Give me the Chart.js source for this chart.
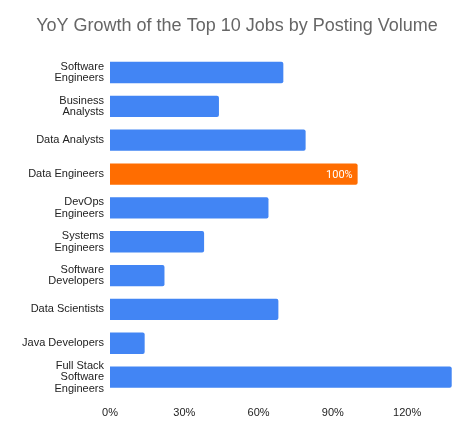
<!DOCTYPE html>
<html>
<head>
<meta charset="utf-8">
<script src="https://cdn.jsdelivr.net/npm/chart.js@4"></script>
<style>
  html, body { margin: 0; padding: 0; background: #fff; }
  #wrap { width: 474px; height: 434px; }
</style>
</head>
<body>
<div id="wrap"><canvas id="chart" width="474" height="434"></canvas></div>
<script>
const jobs = [
  ['Software', 'Engineers'],
  ['Business', 'Analysts'],
  'Data Analysts',
  'Data Engineers',
  ['DevOps', 'Engineers'],
  ['Systems', 'Engineers'],
  ['Software', 'Developers'],
  'Data Scientists',
  'Java Developers',
  ['Full Stack', 'Software', 'Engineers'],
];
const growth = [70, 44, 79, 100, 64, 38, 22, 68, 14, 138];
const highlightIndex = 3;
const xTickStep = 30;
const xMax = 147;

const BLUE = '#4285f4';
const ORANGE = '#ff6d01';
const FONT = '"Liberation Sans", Arial, sans-serif';

// white value label inside the highlighted bar
const valueLabel = {
  id: 'valueLabel',
  afterDatasetsDraw(chart) {
    const bar = chart.getDatasetMeta(0).data[highlightIndex];
    if (!bar) return;
    const ctx = chart.ctx;
    ctx.save();
    ctx.fillStyle = '#fff';
    ctx.font = '11px Roboto, sans-serif';
    ctx.textAlign = 'right';
    ctx.textBaseline = 'middle';
    ctx.fillText(growth[highlightIndex] + '%', bar.x - 5, bar.y + 1);
    ctx.restore();
  }
};

new Chart(document.getElementById('chart'), {
  type: 'bar',
  data: {
    labels: jobs,
    datasets: [{
      data: growth,
      backgroundColor: growth.map((_, i) => i === highlightIndex ? ORANGE : BLUE),
      borderRadius: 2,
      borderSkipped: 'start',
      barPercentage: 0.9,
      categoryPercentage: 0.7,
    }],
  },
  options: {
    indexAxis: 'y',
    responsive: false,
    animation: false,
    layout: { padding: 0 },
    plugins: {
      legend: { display: false },
      tooltip: { enabled: false },
      title: {
        display: true,
        text: 'YoY Growth of the Top 10 Jobs by Posting Volume',
        color: '#666',
        font: { family: FONT, size: 18, weight: 'normal', lineHeight: 1.2 },
        padding: { top: 15, bottom: 19 },
      },
    },
    scales: {
      x: {
        min: 0,
        max: xMax,
        grid: { display: false, tickLength: 0 },
        border: { display: false },
        ticks: {
          stepSize: xTickStep,
          color: '#222',
          padding: 12,
          font: { family: FONT, size: 11 },
          callback: v => v + '%',
        },
        afterBuildTicks: s => { s.ticks = s.ticks.filter(t => t.value % xTickStep === 0); },
        afterFit: s => { s.height = 40; },
      },
      y: {
        grid: { display: false, tickLength: 0 },
        border: { display: false },
        ticks: {
          autoSkip: false,
          color: '#222',
          padding: 6,
          font: { family: FONT, size: 11, lineHeight: 1.05 },
        },
        afterFit: s => { s.width = 110; },
      },
    },
  },
  plugins: [valueLabel],
});
</script>
</body>
</html>
